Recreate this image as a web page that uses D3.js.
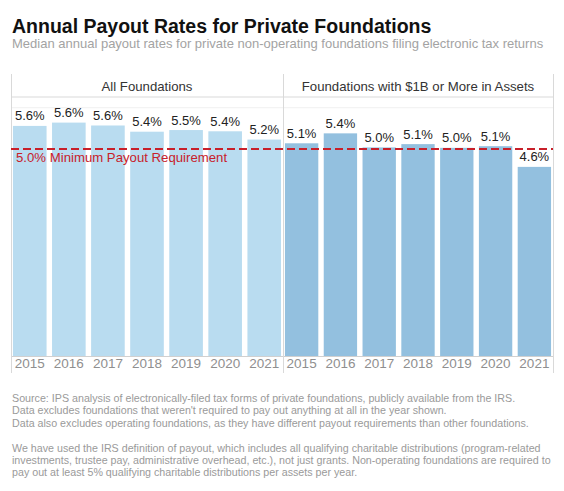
<!DOCTYPE html>
<html><head><meta charset="utf-8">
<script src="https://cdn.jsdelivr.net/npm/d3@7"></script>
<style>
html,body{margin:0;padding:0;background:#fff;}
svg{display:block;font-family:"Liberation Sans",Arial,sans-serif;}
</style></head>
<body>
<script>
const years = ["2015","2016","2017","2018","2019","2020","2021"];
const allFoundations = [5.56, 5.64, 5.57, 5.42, 5.46, 5.43, 5.23];
const largeFoundations = [5.14, 5.38, 5.04, 5.12, 5.03, 5.07, 4.57];
const panelTitles = ["All Foundations", "Foundations with $1B or More in Assets"];
const minimumPayout = 5.0;
const footnotes = [
  "Source: IPS analysis of electronically-filed tax forms of private foundations, publicly available from the IRS.",
  "Data excludes foundations that weren't required to pay out anything at all in the year shown.",
  "Data also excludes operating foundations, as they have different payout requirements than other foundations.",
  "",
  "We have used the IRS definition of payout, which includes all qualifying charitable distributions (program-related",
  "investments, trustee pay, administrative overhead, etc.), not just grants. Non-operating foundations are required to",
  "pay out at least 5% qualifying charitable distributions per assets per year."
];

(function () {
const W = 564, H = 491;
const svg = d3.select("body").append("svg").attr("width", W).attr("height", H);

svg.append("text").attr("x", 12).attr("y", 32.5)
  .style("font-size", "19.5px").style("font-weight", "bold").attr("fill", "#111")
  .text("Annual Payout Rates for Private Foundations");
svg.append("text").attr("x", 12).attr("y", 48)
  .style("font-size", "13px").attr("fill", "#a3a3a3")
  .text("Median annual payout rates for private non-operating foundations filing electronic tax returns");

const xL = 11, xM = 283, xR = 553;
const frameTop = 74, headBottom = 97, plotTop = 107.7, plotBottom = 356, frameBottom = 373;
const y = d3.scaleLinear().domain([0, 6]).range([plotBottom, plotTop]);

const panels = [
  {title: panelTitles[0], values: allFoundations, x0: xL, x1: xM, color: "#b9dcf0"},
  {title: panelTitles[1], values: largeFoundations, x0: xM, x1: xR, color: "#93c0df"}
];

svg.append("line").attr("x1", xL).attr("x2", xR)
  .attr("y1", y(6)).attr("y2", y(6)).attr("stroke", "#f0f0f0").attr("stroke-width", 1);
svg.append("line").attr("x1", xL).attr("x2", xR)
  .attr("y1", headBottom).attr("y2", headBottom).attr("stroke", "#d9d9d9").attr("stroke-width", 1);

const fmt = d3.format(".1f");
panels.forEach(p => {
  const x = d3.scaleBand().domain(years).range([p.x0, p.x1]).paddingInner(0.14).paddingOuter(0.05);
  svg.append("text").attr("x", (p.x0 + p.x1) / 2).attr("y", 90.5)
    .attr("text-anchor", "middle").style("font-size", "13.2px").attr("fill", "#333")
    .text(p.title);
  const g = svg.append("g");
  g.selectAll("rect").data(p.values).join("rect")
    .attr("x", (d, i) => x(years[i])).attr("width", x.bandwidth())
    .attr("y", d => y(d)).attr("height", d => plotBottom - y(d))
    .attr("fill", p.color);
  g.selectAll("text.val").data(p.values).join("text").attr("class", "val")
    .attr("x", (d, i) => x(years[i]) + x.bandwidth() / 2)
    .attr("y", d => y(d) - 5.5)
    .attr("text-anchor", "middle").style("font-size", "13px").attr("fill", "#222")
    .text(d => fmt(d) + "%");
  const ax = svg.append("g").attr("transform", `translate(0,${plotBottom})`)
    .call(d3.axisBottom(x).tickSize(0).tickPadding(6));
  ax.select(".domain").remove();
  ax.selectAll("text").style("font-size", "13.5px").attr("fill", "#8f8f8f")
    .style("font-family", "'Liberation Sans',Arial,sans-serif").attr("dy", "0.71em").attr("y", 2.5);
});

svg.append("line").attr("x1", xL).attr("x2", xR)
  .attr("y1", plotBottom + 0.5).attr("y2", plotBottom + 0.5).attr("stroke", "#d0d0d0");

[xL, xM, xR].forEach(xx => {
  svg.append("line").attr("x1", xx + 0.5).attr("x2", xx + 0.5)
    .attr("y1", frameTop).attr("y2", frameBottom).attr("stroke", "#d9d9d9");
});

svg.append("line").attr("x1", xL).attr("x2", xR)
  .attr("y1", y(minimumPayout)).attr("y2", y(minimumPayout))
  .attr("stroke", "#c8202a").attr("stroke-width", 2).attr("stroke-dasharray", "8,4");
svg.append("text").attr("x", 16).attr("y", 161.5)
  .style("font-size", "13.2px").attr("fill", "#c8202a")
  .text(fmt(minimumPayout) + "% Minimum Payout Requirement");

svg.append("g").selectAll("text").data(footnotes).join("text")
  .attr("x", 12).attr("y", (d, i) => 402 + i * 12.4)
  .style("font-size", "10.7px").attr("fill", "#9a9a9a")
  .text(d => d);
})();
</script>
</body></html>
